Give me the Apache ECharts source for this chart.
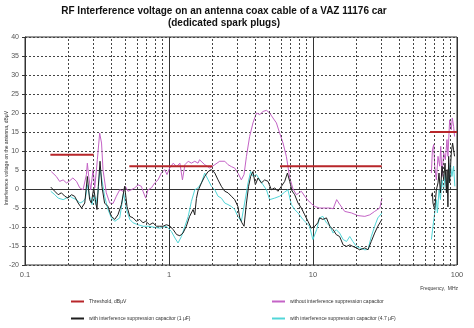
<!DOCTYPE html>
<html><head><meta charset="utf-8">
<script src="https://cdn.jsdelivr.net/npm/echarts@6/dist/echarts.min.js"></script>
<style>html,body{margin:0;padding:0;background:#fff}#c{width:474px;height:328px}</style>
</head><body><div id="c"></div>
<script>
// Frequency in MHz, level in dBµV; null breaks a trace
const threshold = [[0.15,9],[0.3,9],[0.4,null],[0.53,6],[2.0,6],[3,null],[5.9,6],[30,6],[45,null],[65,15],[100,15]];

const noCapacitor = [
  [0.152,4.6],[0.165,3.3],[0.174,2.0],[0.184,2.4],[0.194,1.6],[0.202,2.0],[0.215,2.9],[0.228,2.0],[0.240,0.3],[0.253,-0.2],
  [0.267,3.8],[0.271,6.8],[0.277,3.3],[0.286,-0.2],[0.297,5.1],[0.305,0.3],[0.318,7.7],[0.330,14.7],[0.340,12.1],[0.348,5.1],
  [0.367,-1.0],[0.388,-3.7],[0.409,-3.8],[0.431,-1.9],[0.455,-0.2],[0.480,-0.6],[0.498,0.7],[0.519,-0.6],[0.548,-0.2],[0.578,0.3],
  [0.610,1.1],[0.643,0.7],[0.660,-0.6],[0.689,-2.4],[0.715,-0.2],[0.755,0.3],[0.796,1.6],[0.839,2.4],[0.885,4.2],[0.933,5.1],
  [0.968,3.8],[1.01,5.5],[1.07,6.8],[1.13,5.9],[1.19,6.8],[1.24,2.4],[1.29,6.4],[1.36,7.3],[1.43,6.8],[1.51,7.3],
  [1.59,6.8],[1.63,7.7],[1.77,6.4],[1.92,5.5],[2.08,6.4],[2.25,7.3],[2.44,7.3],[2.57,6.4],[2.71,5.9],[2.86,5.5],
  [3.01,4.2],[3.18,2.4],[3.32,3.8],[3.45,8.6],[3.63,13.8],[3.83,17.4],[4.05,20.0],[4.27,19.6],[4.50,20.4],[4.75,20.7],
  [5.00,20.0],[5.27,18.7],[5.57,17.4],[5.87,14.7],[6.19,12.1],[6.53,8.6],[6.89,3.0],[7.26,0.0],[7.67,-1.5],[8.30,-0.6],
  [8.76,-1.9],[9.23,-3.0],[9.72,-3.8],[10.3,-4.6],[11.1,-5.0],[12.4,-5.0],[13.1,-5.0],[13.8,-5.2],[14.6,-2.8],[15.3,-4.0],
  [16.6,-5.9],[18.5,-6.3],[20.5,-7.0],[22.9,-7.2],[24.8,-6.8],[26.8,-5.9],[29.1,-5.0],[30.1,-2.4],
  [45,null],
  [66.4,4.2],[67.5,10.3],[68.9,11.7],[70.0,6.0],[71.9,2.4],[73.8,8.6],[75.8,6.0],[77.1,11.2],[78.7,3.3],[80.8,9.5],
  [83.0,7.7],[85.2,13.0],[86.5,8.6],[88.9,18.2],[91.3,15.6],[92.8,18.7],[94.7,16.5],[96.2,13.8]
];

const cap1uF = [
  [0.151,0.5],[0.161,-0.6],[0.170,-1.5],[0.179,-1.0],[0.189,-1.9],[0.199,-2.4],[0.210,-1.5],[0.221,-1.9],[0.234,-3.7],[0.247,-5.0],
  [0.260,-3.7],[0.271,3.3],[0.281,-2.8],[0.289,-3.7],[0.300,0.3],[0.308,-2.8],[0.316,-5.4],[0.323,0.7],[0.332,7.3],[0.342,0.7],
  [0.357,-3.7],[0.377,-4.6],[0.398,-7.2],[0.420,-8.0],[0.442,-6.8],[0.467,-4.1],[0.492,0.7],[0.511,-4.6],[0.534,-7.2],[0.563,-7.6],
  [0.594,-8.5],[0.626,-8.0],[0.660,-8.9],[0.689,-8.5],[0.734,-9.4],[0.774,-8.9],[0.818,-9.8],[0.861,-9.8],[0.909,-9.8],[0.959,-9.4],
  [1.01,-9.7],[1.07,-10.7],[1.13,-12.0],[1.19,-12.3],[1.25,-11.6],[1.32,-9.8],[1.39,-7.2],[1.47,-5.4],[1.51,-6.8],[1.55,-2.5],
  [1.59,-0.5],[1.63,-1.0],[1.68,1.6],[1.77,3.3],[1.87,4.6],[1.97,5.1],[2.08,4.2],[2.19,2.4],[2.31,0.7],[2.44,-0.6],
  [2.57,-1.0],[2.71,-1.9],[2.86,-2.8],[3.01,-4.6],[3.10,-7.6],[3.21,-8.9],[3.32,-9.8],[3.45,-3.7],[3.57,0.7],[3.69,3.3],
  [3.83,4.6],[3.98,1.1],[4.15,2.9],[4.38,1.6],[4.62,2.4],[4.87,2.0],[5.14,-0.2],[5.42,0.3],[5.71,-0.6],[6.03,0.7],
  [6.36,2.0],[6.64,4.2],[6.89,2.0],[7.15,-0.5],[7.46,-1.5],[7.87,-3.7],[8.30,-5.0],[8.76,-6.8],[9.23,-8.5],[9.72,-10.3],
  [10.3,-9.8],[10.8,-8.9],[11.1,-7.6],[11.7,-8.0],[12.4,-7.6],[13.1,-9.8],[13.8,-10.7],[14.5,-12.0],[15.3,-12.5],[16.2,-14.7],
  [17.1,-15.1],[18.0,-14.7],[18.9,-15.1],[20.0,-15.5],[21.1,-16.0],[22.9,-15.5],[24.1,-16.0],[25.4,-13.8],[26.8,-11.6],[28.2,-9.8],
  [30.1,-8.0],
  [45,null],
  [66.4,-1.9],[67.5,-1.0],[68.1,-3.7],[70.0,-5.4],[71.9,-0.2],[73.8,1.6],[75.0,4.2],[76.7,-1.0],[78.7,6.0],[80.8,2.4],
  [82.6,6.8],[84.4,-1.0],[85.4,5.1],[86.5,-4.7],[87.5,8.6],[88.9,1.6],[91.3,9.5],[93.2,12.1],[94.7,10.3],[96.2,8.6]
];

const cap47uF = [
  [0.151,-0.6],[0.161,-1.5],[0.170,-2.4],[0.184,-2.8],[0.194,-2.4],[0.205,-1.9],[0.215,-2.4],[0.228,-2.8],[0.240,-3.7],[0.253,-3.3],
  [0.263,-2.4],[0.271,1.1],[0.281,-1.9],[0.292,-4.1],[0.301,-1.5],[0.310,-4.1],[0.321,-1.0],[0.332,5.5],[0.342,2.4],[0.357,-1.9],
  [0.377,-5.4],[0.398,-7.6],[0.420,-8.5],[0.431,-8.9],[0.455,-7.6],[0.484,-1.0],[0.506,-5.4],[0.534,-8.0],[0.563,-8.9],[0.610,-9.4],
  [0.660,-9.8],[0.715,-9.8],[0.774,-10.0],[0.861,-10.3],[0.959,-9.8],[1.04,-11.2],[1.10,-12.9],[1.155,-14.2],[1.22,-12.5],[1.29,-9.8],
  [1.36,-7.2],[1.43,-3.3],[1.51,-0.2],[1.59,0.3],[1.68,1.6],[1.77,4.2],[1.87,2.4],[1.97,0.7],[2.08,-0.2],[2.19,-1.9],
  [2.31,-2.4],[2.44,-3.7],[2.57,-4.1],[2.71,-4.6],[2.86,-5.4],[3.01,-7.2],[3.18,-8.5],[3.35,-3.7],[3.54,1.6],[3.69,4.6],
  [3.83,3.3],[4.05,3.8],[4.27,2.4],[4.50,1.1],[4.75,-0.2],[5.00,-2.8],[5.42,-2.4],[5.87,-1.9],[6.36,-0.8],[6.70,-0.2],
  [7.07,-4.1],[7.46,-5.4],[7.87,-6.3],[8.50,-8.0],[9.00,-8.9],[9.46,-9.8],[9.98,-13.3],[10.6,-10.7],[11.1,-7.6],[11.7,-7.2],
  [12.4,-8.9],[13.1,-9.8],[13.8,-11.6],[14.5,-10.7],[15.3,-11.6],[16.2,-13.3],[17.1,-13.8],[18.0,-12.5],[18.9,-13.8],[20.0,-15.1],
  [21.1,-15.5],[22.9,-16.0],[24.1,-15.9],[25.4,-12.5],[26.8,-9.8],[28.2,-7.6],[30.1,-6.3],
  [45,null],
  [66.4,-13.3],[68.1,-9.8],[70.0,-6.3],[71.9,-2.8],[73.1,-6.3],[75.0,-0.2],[76.7,-2.8],[78.7,2.4],[80.8,-0.2],[83.0,4.2],
  [85.2,-1.0],[87.5,3.3],[89.9,6.8],[92.2,3.3],[94.7,6.0],[96.6,0.7]
];

// Intermediate frequencies that get a dashed vertical grid line
const minorFreqs = [0.2,0.3,0.4,0.5,0.6,0.7,0.8,0.9,2,3,4,5,6,7,8,9,20,30,40,50,60,70,80,90];
const xTickLabels = ['0.1','1','10','100'];

const titleLines = ['RF Interference voltage on an antenna coax cable of a VAZ 11176 car', '(dedicated spark plugs)'];
const yAxisTitle = 'Interference voltage on the antenna, dBµV';
const xAxisTitle = 'Frequency,  MHz';
const names = ['Threshold, dBµV', 'without interference suppression capacitor',
  'with interference suppression capacitor (1 µF)', 'with interference suppression capacitor (4.7 µF)'];

const FONT = 'Arial, "Liberation Sans", sans-serif';
const chart = echarts.init(document.getElementById('c'), null, {renderer: 'canvas'});

const legendText = {fontSize: 5, color: '#333', fontFamily: FONT};
chart.setOption({
  animation: false,
  backgroundColor: '#fff',
  grid: {left: 25, right: 17, top: 37, bottom: 63, show: true, borderColor: '#333', borderWidth: 1},
  graphic: [
    {type: 'text', silent: true,
     style: {text: titleLines[0], x: 224, y: 11, textAlign: 'center', textVerticalAlign: 'middle',
       fontSize: 10, fontWeight: 'bold', fontFamily: FONT, fill: '#111'}},
    {type: 'text', silent: true,
     style: {text: titleLines[1], x: 224, y: 23, textAlign: 'center', textVerticalAlign: 'middle',
       fontSize: 10, fontWeight: 'bold', fontFamily: FONT, fill: '#111'}},
    {type: 'text', silent: true, x: 7, y: 158, rotation: Math.PI / 2,
     style: {text: yAxisTitle, textAlign: 'center', textVerticalAlign: 'middle', fontSize: 5, fontFamily: FONT, fill: '#333'}},
    {type: 'text', silent: true,
     style: {text: xAxisTitle, x: 458, y: 286, textAlign: 'right', fontSize: 5, fontFamily: FONT, fill: '#333'}}
  ],
  legend: [
    {data: [names[0], names[2]], orient: 'vertical', left: 66, top: 294, itemGap: 12,
     itemWidth: 13, itemHeight: 2, icon: 'rect', textStyle: legendText},
    {data: [names[1], names[3]], orient: 'vertical', left: 267, top: 294, itemGap: 12,
     itemWidth: 13, itemHeight: 2, icon: 'rect', textStyle: legendText}
  ],
  xAxis: {
    type: 'log', logBase: 10, min: 0.1, max: 100,
    axisLine: {lineStyle: {color: '#333', width: 1}},
    axisTick: {show: false},
    axisLabel: {fontSize: 7.5, color: '#555', fontFamily: FONT, margin: 6,
      formatter: v => xTickLabels.find(t => Math.abs(parseFloat(t) - v) < 1e-9 * Math.max(1, v)) || ''},
    splitLine: {show: true, lineStyle: {color: '#333', width: 1, type: 'solid'}}
  },
  yAxis: {
    type: 'value', min: -20, max: 40, interval: 5,
    axisLine: {show: true, lineStyle: {color: '#333', width: 1}},
    axisTick: {show: true, length: 3, lineStyle: {color: '#333'}},
    axisLabel: {fontSize: 7, color: '#555', fontFamily: FONT, margin: 6},
    splitLine: {show: true, lineStyle: {color: '#444', width: 1, type: [2, 2]}}
  },
  series: [
    {name: names[0], type: 'line', data: threshold, showSymbol: false, symbol: 'none', z: 5,
     lineStyle: {color: '#b8262a', width: 2}, itemStyle: {color: '#b8262a'}},
    {name: names[1], type: 'line', data: noCapacitor, showSymbol: false, symbol: 'none', z: 3,
     lineStyle: {color: '#c463c6', width: 1}, itemStyle: {color: '#c463c6'}},
    {name: names[3], type: 'line', data: cap47uF, showSymbol: false, symbol: 'none', z: 3,
     lineStyle: {color: '#52d6d8', width: 1}, itemStyle: {color: '#52d6d8'}},
    {name: names[2], type: 'line', data: cap1uF, showSymbol: false, symbol: 'none', z: 4,
     lineStyle: {color: '#1e1e1e', width: 1}, itemStyle: {color: '#1e1e1e'}},
    {name: 'minor grid', type: 'line', data: [], z: 1, silent: true,
     markLine: {silent: true, symbol: 'none', label: {show: false}, animation: false,
       lineStyle: {color: '#444', width: 1, type: [2, 2]},
       data: minorFreqs.map(f => ({xAxis: f}))}}
  ]
});
</script>
</body></html>
